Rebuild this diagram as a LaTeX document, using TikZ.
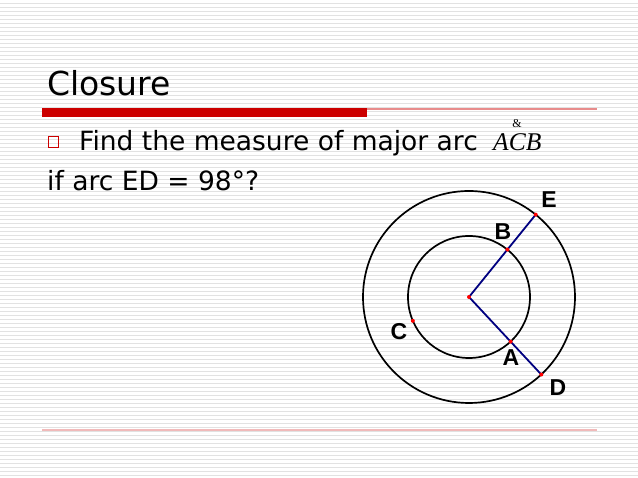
\documentclass[tikz,border=0pt]{standalone}
\usepackage{fontspec}
\setmainfont{DejaVu Sans}
\newfontfamily\labelfont{Liberation Sans}[BoldFont={Liberation Sans Bold}]
\newfontfamily\timesfont{Liberation Serif}
\usepackage{tikz}
\usetikzlibrary{calc}
\definecolor{slidered}{RGB}{204,0,0}
\definecolor{rulepink}{RGB}{232,140,140}
\definecolor{stripe}{RGB}{226,226,226}
\definecolor{navyline}{RGB}{0,0,128}
\tikzstyle{txt} = [anchor=base west, inner sep=0pt]
\tikzstyle{ptlabel} = [inner sep=0pt, font=\labelfont\fontsize{23}{23}\selectfont\bfseries]
\tikzstyle{reddot} = [fill=red, draw=none]
\tikzstyle{ring} = [draw=black, line width=1.7pt]
\tikzstyle{radius} = [draw=navyline, line width=1.8pt]

\begin{document}
\begin{tikzpicture}[x=1pt, y=1pt]
			\useasboundingbox (0,0) rectangle (638,478);
			\fill[white] (0,0) rectangle (638,478);
			\foreach \y in {2,6,...,478}
				\draw[stripe, line width=1pt] (0,\y) -- (638,\y);
			
			% title and rules
			\node (title) [txt, font=\fontsize{33}{33}\selectfont] at (47,382) {Closure};
			\fill[slidered] (42,361) rectangle (367,370);
			\draw[rulepink, line width=1.5pt] (367,369) -- (597,369);
			\draw[rulepink!60, line width=1.5pt] (42,48) -- (597,48);
			
			% question
			\node (bullet) [draw=slidered, line width=1pt, minimum size=10.5pt, inner sep=0pt] at (53.5,336) {};
			\node (find) [txt, font=\fontsize{26.5}{26.5}\selectfont] at (79,327) {Find the measure of major arc};
			\node (acb) [txt, font=\timesfont\itshape\fontsize{25.5}{25.5}\selectfont] at (493,327) {ACB};
			\node (amp) [anchor=base, inner sep=0pt, font=\timesfont\fontsize{12}{12}\selectfont] at (517,350) {\&};
			\node (given) [txt, font=\fontsize{26.5}{26.5}\selectfont] at (47,287) {if arc ED = 98°?};
			
			% circles
			\coordinate (O) at (469,181);
			\draw[ring] (O) circle (106);
			\draw[ring] (O) circle (61);
			\coordinate (E) at ($(O)+(51:106)$);
			\coordinate (D) at ($(O)+(-47:106)$);
			\coordinate (B) at ($(O)+(51:61)$);
			\coordinate (A) at ($(O)+(-47:61)$);
			\coordinate (C) at ($(O)+(203:61)$);
			\draw[radius] (O) -- (E);
			\draw[radius] (O) -- (D);
			\foreach \p in {O,A,B,C,D,E}
				\fill[reddot] (\p) circle (2);
			
			\node (labE) [ptlabel] at (549,278) {E};
			\node (labB) [ptlabel] at (503,246) {B};
			\node (labC) [ptlabel] at (399,146) {C};
			\node (labA) [ptlabel] at (511,120) {A};
			\node (labD) [ptlabel] at (558,90) {D};
		\end{tikzpicture}
\end{document}
